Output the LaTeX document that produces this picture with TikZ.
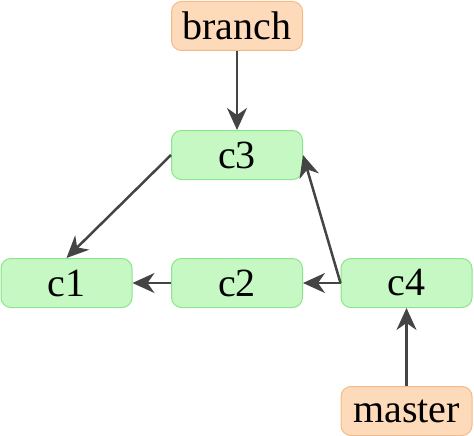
\documentclass[tikz,border=0pt]{standalone}
\usepackage{fontspec}
\setmainfont{Liberation Serif}
\usetikzlibrary{arrows.meta}
\definecolor{commitfill}{RGB}{198,248,196}
\definecolor{commitline}{RGB}{140,228,140}
\definecolor{reffill}{RGB}{253,218,186}
\definecolor{refline}{RGB}{244,186,138}
\definecolor{edgecol}{RGB}{68,68,68}
\begin{document}
\begin{tikzpicture}[x=1pt,y=-1pt,>={Stealth[length=22pt,width=20pt,inset=7pt]},
  line join=round,
  box/.style={rounded corners=10pt,minimum width=131pt,minimum height=49pt,inner sep=0pt,line width=1pt,font=\fontsize{40}{44}\selectfont},
  commit/.style={box,draw=commitline,fill=commitfill},
  ref/.style={box,draw=refline,fill=reffill},
  link/.style={->,draw=edgecol,line width=2.5pt}]
\useasboundingbox (0,0) rectangle (474,436);
\foreach \n/\x/\y in {c1/66.5/283,c2/237/283,c3/237/155,c4/406.5/283}
  \node[commit] (\n) at (\x,\y) {\n};
\node[ref] (branch) at (237,26) {branch};
\node[ref] (master) at (406.5,411) {master};
\draw[link] (branch)--(c3);
\draw[link] (master)--(c4);
\draw[link] (c3.west)--(c1.north);
\draw[link] (c2)--(c1);
\draw[link] (c4)--(c2);
\draw[link] (c4.west)--(c3.east);
\end{tikzpicture}
\end{document}
